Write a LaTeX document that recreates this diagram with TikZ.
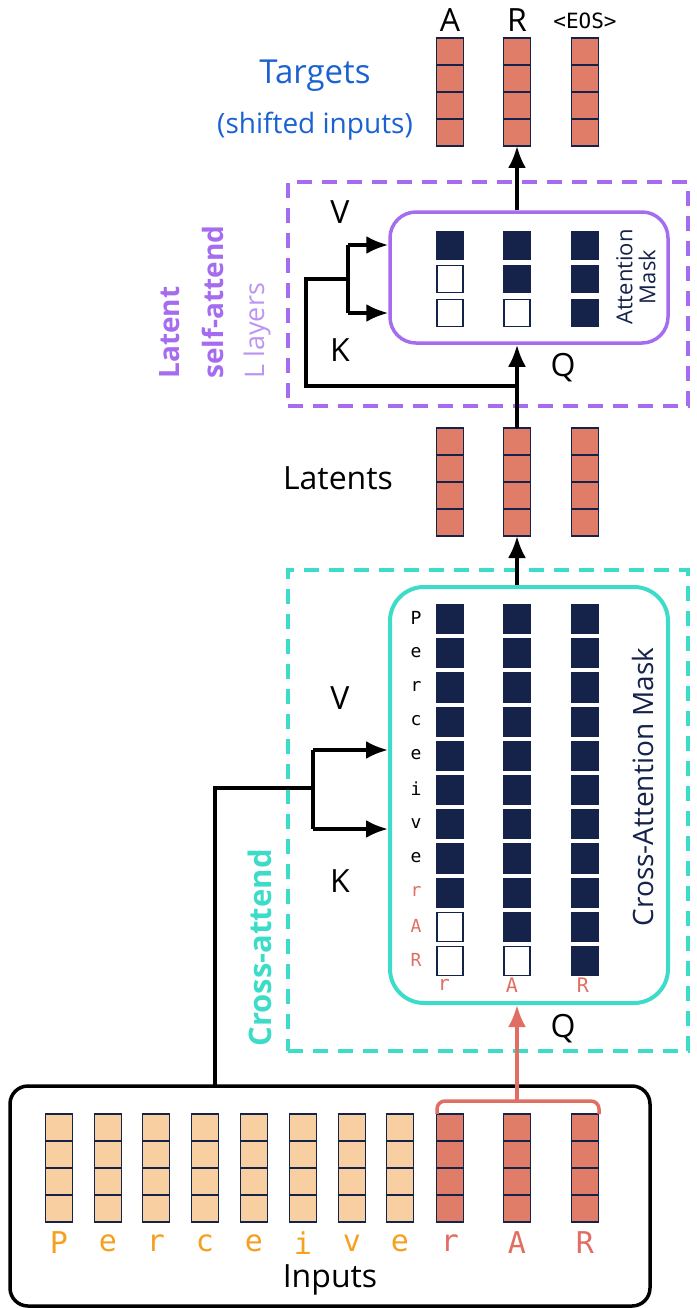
\documentclass[tikz,border=0pt]{standalone}
\usepackage{fontspec}
\setmainfont{Open Sans}
\newfontfamily\monof{DejaVu Sans Mono}
\usetikzlibrary{arrows.meta}
\definecolor{salmon}{HTML}{DF7D68}
\definecolor{peach}{HTML}{F8CFA0}
\definecolor{navy}{HTML}{15224A}
\definecolor{purp}{HTML}{A66CF0}
\definecolor{lpurp}{HTML}{BC95F2}
\definecolor{cyanc}{HTML}{3DDCC8}
\definecolor{blueT}{HTML}{1A62D2}
\definecolor{redT}{HTML}{E06E62}
\definecolor{orT}{HTML}{F5A020}
\tikzset{
 cell/.style={draw=navy,line width=1.2pt,minimum width=27pt,minimum height=27pt,inner sep=0pt},
 mcell/.style={draw=navy,fill=navy,line width=1.2pt,minimum width=26pt,minimum height=27pt,inner sep=0pt},
 ecell/.style={draw=navy,fill=white,line width=1.2pt,minimum width=26pt,minimum height=27pt,inner sep=0pt},
 arr/.style={line width=3.5pt,-{Latex[length=22pt,width=18pt]}},
 ln/.style={line width=3.5pt},
 dbox/.style={dashed,dash pattern=on 15pt off 10pt,line width=4pt,inner sep=0pt},
 lab/.style={font=\fontsize{32}{34}\selectfont}
}
\newcommand{\colvec}[4]{% name, x, ytop, fill
 \foreach \k in {0,1,2,3}{\node[cell,fill=#4,minimum height=27pt] (#1c\k) at (#2,{#3+13.5+27*\k}) {};}
 \coordinate (#1t) at (#2,#3); \coordinate (#1b) at (#2,#3+108);}
\begin{document}
\begin{tikzpicture}[x=1pt,y=-1pt]
\useasboundingbox (0,0) rectangle (696,1308);
% targets
\colvec{ta}{450}{38}{salmon}\colvec{tr}{517}{38}{salmon}\colvec{te}{585}{38}{salmon}
\node[lab] (lA) at (450,20) {A};
\node[lab] (lR) at (517,20) {R};
\node[font=\monof\fontsize{21}{22}\selectfont] (lE) at (585,21) {<EOS>};
\node[font=\fontsize{33}{34}\selectfont,text=blueT] (tg) at (315,76) {Targets};
\node[font=\fontsize{28}{30}\selectfont,text=blueT] (sh) at (315,126) {(shifted inputs)};
% purple box
\node[draw=purp,dbox,minimum width=400pt,minimum height=224pt] (pbox) at (488,294) {};
\node[draw=purp,line width=3.5pt,rounded corners=26pt,minimum width=278pt,minimum height=131pt,inner sep=0pt] (amask) at (529,277.5) {};
\foreach \x/\n in {450/a,517/b,585/c}{\node[mcell] (am\n1) at (\x,245.5) {};}
\node[ecell] (am2a) at (450,279) {}; \node[mcell] (am2b) at (517,279) {}; \node[mcell] (am2c) at (585,279) {};
\node[ecell] (am3a) at (450,313) {}; \node[ecell] (am3b) at (517,313) {}; \node[mcell] (am3c) at (585,313) {};
\node[rotate=90,align=center,text=navy,font=\fontsize{22}{23}\selectfont] (amt) at (636,277) {Attention\\Mask};
\node[rotate=90,anchor=west,text=purp,font=\bfseries\fontsize{28}{28}\selectfont] (lt1) at (170,382) {Latent};
\node[rotate=90,anchor=west,text=purp,font=\bfseries\fontsize{28}{28}\selectfont] (lt2) at (213,382) {self-attend};
\node[rotate=90,anchor=west,text=lpurp,font=\fontsize{27}{28}\selectfont] (lt3) at (257,382) {L layers};
\node[lab] (V1) at (340,212) {V};
\node[lab] (K1) at (340,350) {K};
\node[lab] (Q1) at (563,368) {Q};
\coordinate (s1) at (517,386);
\coordinate (c1) at (306,386); \coordinate (c2) at (306,279); \coordinate (b1) at (348,279);
\coordinate (b1v) at (348,245); \coordinate (b1k) at (348,313);
\draw[arr] (trb|-amask.north) -- (trb);
% latents
\colvec{la}{450}{428}{salmon}\colvec{lr}{517}{428}{salmon}\colvec{le}{585}{428}{salmon}
\node[lab] (lat) at (338,478) {Latents};
\draw[ln] (lrt) -- (s1);
\draw[arr] (s1) -- (s1|-amask.south);
\draw[ln,line join=miter] (s1) -- (c1) -- (c2) -- (b1);
\draw[ln] (b1v) -- (b1k);
\draw[arr] (b1v) -- (b1v-|amask.west);
\draw[arr] (b1k) -- (b1k-|amask.west);
% cyan box
\node[draw=cyanc,dbox,minimum width=400pt,minimum height=481pt] (cbox) at (488,810.5) {};
\node[draw=cyanc,line width=4pt,rounded corners=34pt,minimum width=278pt,minimum height=416pt,inner sep=0pt] (cmask) at (529,795) {};
\draw[arr] (lrb|-cmask.north) -- (lrb);
\foreach \l [count=\i from 0] in {P,e,r,c,e,i,v,e}{
 \node[font=\monof\fontsize{18}{18}\selectfont] (rl\i) at (416,{618+34.2*\i}) {\l};}
\foreach \l [count=\i from 8] in {r,A,R}{
 \node[font=\monof\fontsize{18}{18}\selectfont,text=redT] (rl\i) at (416,{618+34.2*\i}) {\l};}
\foreach \i in {0,...,10}{
 \node[mcell,minimum height=29pt] (cma\i) at (450,{619+34.2*\i}) {};
 \node[mcell,minimum height=29pt] (cmb\i) at (517,{619+34.2*\i}) {};
 \node[mcell,minimum height=29pt] (cmc\i) at (585,{619+34.2*\i}) {};}
\node[ecell,minimum height=29pt] (cme9) at (450,{619+34.2*9}) {};
\node[ecell,minimum height=29pt] (cme10) at (450,{619+34.2*10}) {};
\node[ecell,minimum height=29pt] (cmf10) at (517,{619+34.2*10}) {};
\node[font=\monof\fontsize{20}{20}\selectfont,text=redT] (br1) at (444,985) {r};
\node[font=\monof\fontsize{20}{20}\selectfont,text=redT] (br2) at (512,985) {A};
\node[font=\monof\fontsize{20}{20}\selectfont,text=redT] (br3) at (583,985) {R};
\node[rotate=90,text=navy,font=\fontsize{28}{28}\selectfont] (cmt) at (643,787) {Cross-Attention Mask};
\node[rotate=90,anchor=west,text=cyanc,font=\bfseries\fontsize{31}{31}\selectfont] (cat) at (260,1050) {Cross-attend};
\node[lab] (V2) at (340,698) {V};
\node[lab] (K2) at (340,881) {K};
\node[lab] (Q2) at (563,1029) {Q};
% inputs
\node[draw,line width=3.5pt,rounded corners=18pt,minimum width=640pt,minimum height=220pt,inner sep=0pt] (inp) at (330,1196) {};
\foreach \x/\l [count=\i] in {59/P,108/e,156/r,205/c,254/e,303/i,352/v,400/e}{
 \colvec{in\i}{\x}{1114}{peach}
 \node[font=\monof\fontsize{30}{30}\selectfont,text=orT] (il\i) at (\x,1243) {\l};}
\foreach \x/\l [count=\i from 9] in {450/r,517/A,585/R}{
 \colvec{in\i}{\x}{1114}{salmon}
 \node[font=\monof\fontsize{30}{30}\selectfont,text=redT] (il\i) at (\x,1243) {\l};}
\node[lab] (inl) at (330,1280) {Inputs};
\coordinate (d1) at (215,1086); \coordinate (d2) at (215,788); \coordinate (b2) at (313,788);
\coordinate (b2v) at (313,750); \coordinate (b2k) at (313,829);
\draw[ln,line join=miter] (d1) -- (d2) -- (b2);
\draw[ln] (b2v) -- (b2k);
\draw[arr] (b2v) -- (b2v-|cmask.west);
\draw[arr] (b2k) -- (b2k-|cmask.west);
% brace
\coordinate (bt) at (517,1100);
\draw[redT,line width=3.5pt,rounded corners=8pt] (437,1114) -- (437,1101) -- (599,1101) -- (599,1114);
\draw[redT,line width=3.5pt,-{Latex[length=22pt,width=18pt]}] (bt) -- (bt|-cmask.south);
\end{tikzpicture}
\end{document}
